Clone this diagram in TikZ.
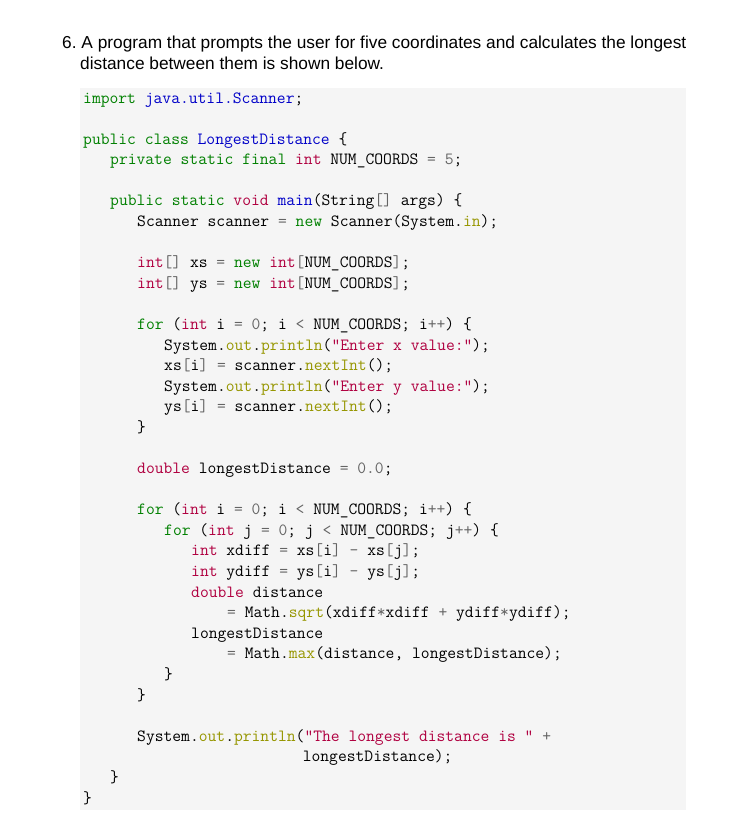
\documentclass[tikz,border=0pt]{standalone}
\usepackage{fontspec}
\setmainfont{Liberation Sans}
\setmonofont{Latin Modern Mono}
\definecolor{kw}{RGB}{0,128,0}
\definecolor{ty}{RGB}{176,0,64}
\definecolor{bl}{RGB}{0,0,200}
\definecolor{ol}{RGB}{150,150,0}
\definecolor{gr}{RGB}{100,100,100}
\definecolor{bg}{RGB}{245,245,245}
\newcommand\K[1]{\textcolor{kw}{#1}}
\newcommand\T[1]{\textcolor{ty}{#1}}
\newcommand\BL[1]{\textcolor{bl}{#1}}
\newcommand\M[1]{\textcolor{ol}{#1}}
\newcommand\G[1]{\textcolor{gr}{#1}}
\tikzset{codeline/.style={anchor=base west,inner sep=0,font=\fontsize{17.1}{20}\ttfamily},
title/.style={anchor=base west,inner sep=0,font=\fontsize{17.3}{20}\selectfont}}
\newcommand\cl[3]{\node[codeline] (l#1) at (83+#2*9,{-(103+(#1-1)*20.59)}) {#3};}
\begin{document}
\begin{tikzpicture}[x=1pt,y=1pt]
\useasboundingbox (0,0) rectangle (736,-827);
\fill[bg] (80,-88) rectangle (686,-810);
\node[title] (t1) at (62,-48) {6.\ A program that prompts the user for five coordinates and calculates the longest};
\node[title] (t2) at (80,-69) {distance between them is shown below.};
\cl{1}{0}{\K{import} \BL{java.util.Scanner};}
\cl{3}{0}{\K{public} \K{class} \BL{LongestDistance} \{}
\cl{4}{3}{\K{private} \K{static} \K{final} \T{int} NUM\_COORDS \G{=} \G{5};}
\cl{6}{3}{\K{public} \K{static} \T{void} \BL{main}(String\G{[]} args) \{}
\cl{7}{6}{Scanner scanner \G{=} \K{new} Scanner(System.\M{in});}
\cl{9}{6}{\T{int}\G{[]} xs \G{=} \K{new} \T{int}\G{[}NUM\_COORDS\G{]};}
\cl{10}{6}{\T{int}\G{[]} ys \G{=} \K{new} \T{int}\G{[}NUM\_COORDS\G{]};}
\cl{12}{6}{\K{for} (\T{int} i \G{=} \G{0}; i \G{<} NUM\_COORDS; i\G{++}) \{}
\cl{13}{9}{System.\M{out}.\M{println}(\T{"Enter x value:"});}
\cl{14}{9}{xs\G{[}i\G{]} \G{=} scanner.\M{nextInt}();}
\cl{15}{9}{System.\M{out}.\M{println}(\T{"Enter y value:"});}
\cl{16}{9}{ys\G{[}i\G{]} \G{=} scanner.\M{nextInt}();}
\cl{17}{6}{\}}
\cl{19}{6}{\T{double} longestDistance \G{=} \G{0.0};}
\cl{21}{6}{\K{for} (\T{int} i \G{=} \G{0}; i \G{<} NUM\_COORDS; i\G{++}) \{}
\cl{22}{9}{\K{for} (\T{int} j \G{=} \G{0}; j \G{<} NUM\_COORDS; j\G{++}) \{}
\cl{23}{12}{\T{int} xdiff \G{=} xs\G{[}i\G{]} \G{-} xs\G{[}j\G{]};}
\cl{24}{12}{\T{int} ydiff \G{=} ys\G{[}i\G{]} \G{-} ys\G{[}j\G{]};}
\cl{25}{12}{\T{double} distance}
\cl{26}{16}{\G{=} Math.\M{sqrt}(xdiff\G{*}xdiff \G{+} ydiff\G{*}ydiff);}
\cl{27}{12}{longestDistance}
\cl{28}{16}{\G{=} Math.\M{max}(distance, longestDistance);}
\cl{29}{9}{\}}
\cl{30}{6}{\}}
\cl{32}{6}{System.\M{out}.\M{println}(\T{"The longest distance is "} \G{+}}
\cl{33}{24.4}{longestDistance);}
\cl{34}{3}{\}}
\cl{35}{0}{\}}
\end{tikzpicture}
\end{document}
